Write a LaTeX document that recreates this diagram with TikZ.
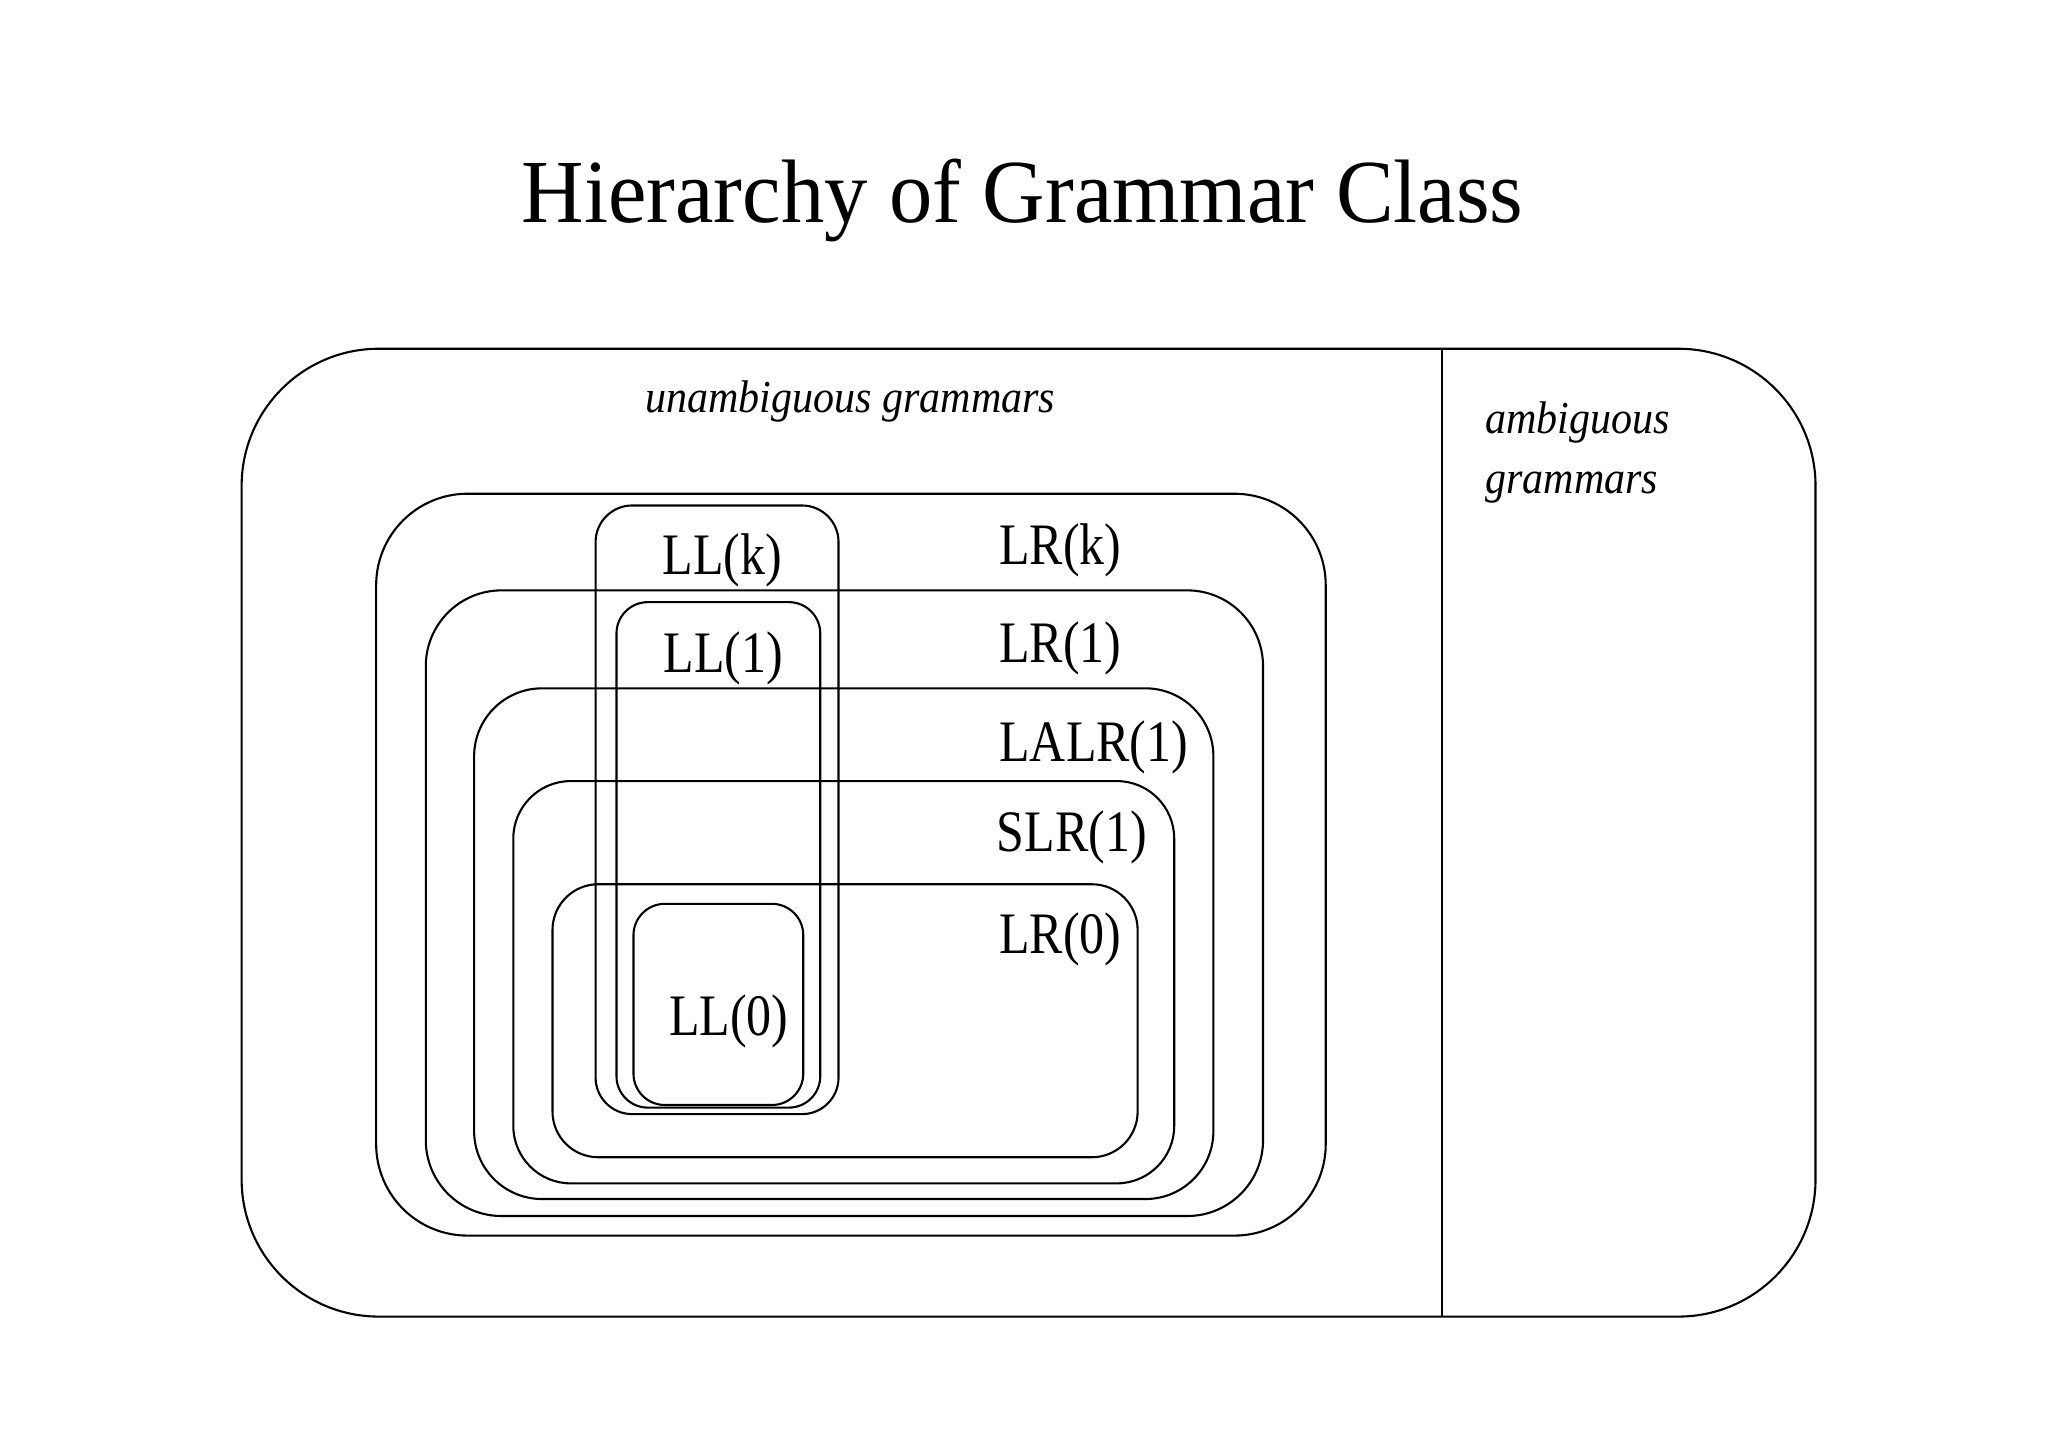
\documentclass[tikz,border=0pt]{standalone}
\usepackage{fontspec}
\setmainfont{Liberation Serif}
\newfontfamily\labfont[FakeStretch=0.85]{Liberation Serif}
\newfontfamily\itfont[FakeStretch=0.92]{Liberation Serif Italic}
\newfontfamily\ttlfont[FakeStretch=0.96]{Liberation Serif}
\begin{document}
\begin{tikzpicture}[x=1pt,y=-1pt,
  gbox/.style={draw=black, line width=1.6pt, inner sep=0pt, outer sep=0pt, anchor=north west},
  lab/.style={font=\labfont\fontsize{45}{50}\selectfont, inner sep=0pt, anchor=base west},
  itlab/.style={font=\itfont\fontsize{35}{40}\selectfont, inner sep=0pt},
  ttl/.style={font=\ttlfont\fontsize{69}{80}\selectfont, inner sep=0pt, anchor=base}]
\useasboundingbox (0,0) rectangle (1568,1108);
\newcommand{\gbox}[6]{\node[gbox, rounded corners=#6pt, minimum width=#4pt-#2pt, minimum height=#5pt-#3pt] (#1) at (#2,#3) {};}
% title
\node[ttl] (title) at (783,170) {Hierarchy of Grammar Class};
% outer box
\gbox{outer}{185}{267}{1390}{1008}{105}
\coordinate (divx) at (1104,0);
\draw[line width=1.6pt] (outer.north -| divx) -- (outer.south -| divx);
% LR boxes
\gbox{lrk}{288}{378}{1015}{946}{70}
\gbox{lr1}{326}{452}{967}{931}{58}
\gbox{lalr}{363}{527}{929}{918}{52}
\gbox{slr}{393}{598}{899}{906}{44}
\gbox{lr0}{423}{677}{871}{886}{35}
% LL boxes
\gbox{llk}{456}{387}{642}{853}{28}
\gbox{ll1}{472}{461}{628}{848}{24}
\gbox{ll0}{485}{692}{615}{846}{24}
% labels
\node[itlab, anchor=base] (unamb) at (651,316) {unambiguous grammars};
\node[itlab, anchor=base west] (amb1) at (1137,332) {ambiguous};
\node[itlab, anchor=base west] (amb2) at (1137,378) {grammars};
\node[lab] (tlrk) at (765,432) {LR(k)};
\node[lab] (tlr1) at (765,507) {LR(1)};
\node[lab] (tlalr) at (765,583) {LALR(1)};
\node[lab] (tslr) at (763,652) {SLR(1)};
\node[lab] (tlr0) at (765,730) {LR(0)};
\node[lab] (tllk) at (507,440) {LL(k)};
\node[lab] (tll1) at (508,515) {LL(1)};
\node[lab] (tll0) at (512,793) {LL(0)};
\end{tikzpicture}
\end{document}
